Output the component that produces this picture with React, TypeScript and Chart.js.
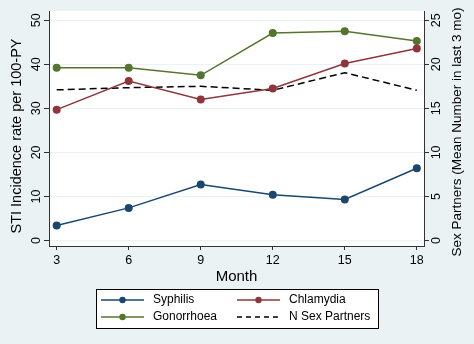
import React, { useEffect, useRef } from "react";
import { Chart, registerables } from "chart.js";
Chart.register(...registerables);

const months = [3, 6, 9, 12, 15, 18];
const syphilis = [3.4, 7.4, 12.7, 10.4, 9.3, 16.4];
const chlamydia = [29.7, 36.2, 32.0, 34.5, 40.2, 43.6];
const gonorrhoea = [39.2, 39.2, 37.5, 47.1, 47.5, 45.3];
const sexPartners = [17.1, 17.35, 17.5, 17.05, 19.05, 17.05];
const leftTicks = [0, 10, 20, 30, 40, 50];
const rightTicks = [0, 5, 10, 15, 20, 25];
const seriesNames = ["Syphilis", "Chlamydia", "Gonorrhoea", "N Sex Partners"];
const seriesColors = ["#1a476f", "#90353b", "#55752f", "#000000"];
const xTitle = "Month";
const leftTitle = "STI Incidence rate per 100-PY";
const rightTitle = "Sex Partners (Mean Number in last 3 mo)";

const FONT = "'Liberation Sans', Arial, sans-serif";
const BG = "#eaf2f3";

const toXY = (arr: number[]) => arr.map((v, i) => ({ x: months[i], y: v }));

const customPlugin = {
  id: "custom",
  beforeDraw(chart: any) {
    const { ctx, chartArea } = chart;
    ctx.save();
    ctx.fillStyle = "#ffffff";
    ctx.fillRect(chartArea.left, chartArea.top, chartArea.right - chartArea.left, chartArea.bottom - chartArea.top);
    ctx.restore();
  },
  afterDraw(chart: any) {
    const { ctx, chartArea } = chart;
    const yL = chart.scales.y;
    const yR = chart.scales.y1;
    ctx.save();
    ctx.fillStyle = "#000";
    ctx.font = `12.5px ${FONT}`;
    ctx.textAlign = "center";
    ctx.textBaseline = "middle";
    leftTicks.forEach((t) => {
      const py = yL.getPixelForValue(t);
      ctx.save();
      ctx.translate(37, py);
      ctx.rotate(-Math.PI / 2);
      ctx.fillText(String(t), 0, 0);
      ctx.restore();
    });
    rightTicks.forEach((t) => {
      const py = yR.getPixelForValue(t);
      ctx.save();
      ctx.translate(chartArea.right + 13, py);
      ctx.rotate(-Math.PI / 2);
      ctx.fillText(String(t), 0, 0);
      ctx.restore();
    });
    ctx.font = `14.5px ${FONT}`;
    ctx.save();
    ctx.translate(17, 136);
    ctx.rotate(-Math.PI / 2);
    ctx.fillText(leftTitle, 0, 0);
    ctx.restore();
    ctx.font = `13.5px ${FONT}`;
    ctx.save();
    ctx.translate(457, 132);
    ctx.rotate(-Math.PI / 2);
    ctx.fillText(rightTitle, 0, 0);
    ctx.restore();

    // legend
    const lx = 96, ly = 289, lw = 282, lh = 39;
    ctx.fillStyle = "#fff";
    ctx.fillRect(lx, ly, lw, lh);
    ctx.strokeStyle = "#000";
    ctx.lineWidth = 1;
    ctx.strokeRect(lx + 0.5, ly + 0.5, lw, lh);
    const entries = [
      { i: 0, x: 101, y: 300 },
      { i: 1, x: 237, y: 300 },
      { i: 2, x: 101, y: 317 },
      { i: 3, x: 237, y: 317 },
    ];
    ctx.font = `12px ${FONT}`;
    ctx.textAlign = "left";
    entries.forEach(({ i, x, y }) => {
      ctx.strokeStyle = seriesColors[i];
      ctx.lineWidth = 1.3;
      ctx.setLineDash(i === 3 ? [5, 4] : []);
      ctx.beginPath();
      ctx.moveTo(x, y);
      ctx.lineTo(x + 43, y);
      ctx.stroke();
      ctx.setLineDash([]);
      if (i !== 3) {
        ctx.fillStyle = seriesColors[i];
        ctx.beginPath();
        ctx.arc(x + 21.5, y, 3.2, 0, Math.PI * 2);
        ctx.fill();
      }
      ctx.fillStyle = "#000";
      ctx.fillText(seriesNames[i], x + 52, y);
    });
    ctx.restore();
  },
};

export default function App() {
  const ref = useRef<HTMLCanvasElement>(null);
  useEffect(() => {
    document.body.style.margin = "0";
    const lineDs = (label: string, data: number[], color: string) => ({
      label,
      data: toXY(data),
      borderColor: color,
      backgroundColor: color,
      borderWidth: 1.5,
      pointRadius: 4,
      pointBorderWidth: 0,
      pointBackgroundColor: color,
      yAxisID: "y",
    });
    const chart = new Chart(ref.current!, {
      type: "line",
      data: {
        datasets: [
          lineDs(seriesNames[0], syphilis, seriesColors[0]),
          lineDs(seriesNames[1], chlamydia, seriesColors[1]),
          lineDs(seriesNames[2], gonorrhoea, seriesColors[2]),
          {
            label: seriesNames[3],
            data: toXY(sexPartners),
            borderColor: "#000",
            borderWidth: 1.5,
            borderDash: [7, 4],
            pointRadius: 0,
            yAxisID: "y1",
          },
        ],
      },
      options: {
        animation: false,
        responsive: false,
        layout: { padding: { top: 11, bottom: 58, left: 0, right: 0 } },
        plugins: { legend: { display: false }, tooltip: { enabled: false } },
        scales: {
          x: {
            type: "linear",
            min: 2.68,
            max: 18.3,
            afterBuildTicks: (s: any) => {
              s.ticks = months.map((m) => ({ value: m }));
            },
            afterFit: (s: any) => {
              s.height = 40;
            },
            grid: { drawOnChartArea: false, tickLength: 4, tickColor: "#333" },
            border: { color: "#333", width: 1 },
            ticks: { color: "#000", font: { family: FONT, size: 12.5 }, padding: 3, maxRotation: 0 },
            title: { display: true, text: xTitle, color: "#000", font: { family: FONT, size: 15 }, padding: 0 },
          },
          y: {
            position: "left",
            min: -1.25,
            max: 52.1,
            afterBuildTicks: (s: any) => {
              s.ticks = leftTicks.map((v) => ({ value: v }));
            },
            afterFit: (s: any) => {
              s.width = 49;
            },
            grid: { color: BG, lineWidth: 1, tickLength: 5, tickColor: "#333" },
            border: { color: "#333", width: 1 },
            ticks: { display: false },
          },
          y1: {
            position: "right",
            min: -0.625,
            max: 26.05,
            afterBuildTicks: (s: any) => {
              s.ticks = rightTicks.map((v) => ({ value: v }));
            },
            afterFit: (s: any) => {
              s.width = 50;
            },
            grid: { drawOnChartArea: false, tickLength: 5, tickColor: "#333" },
            border: { color: "#333", width: 1 },
            ticks: { display: false },
          },
        },
      },
      plugins: [customPlugin],
    } as any);
    return () => chart.destroy();
  }, []);
  return (
    <div style={{ position: "absolute", left: 0, top: 0, width: 474, height: 344, background: BG }}>
      <canvas ref={ref} width={474} height={344} style={{ display: "block" }} />
    </div>
  );
}
